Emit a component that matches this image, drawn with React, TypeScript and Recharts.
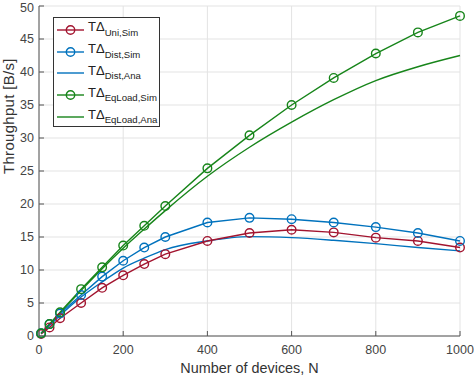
import React from 'react';
import { LineChart, Line, XAxis, YAxis, CartesianGrid, Legend } from 'recharts';

const devices = [5, 25, 50, 100, 150, 200, 250, 300, 400, 500, 600, 700, 800, 900, 1000];
const uniSim = [0.3, 1.3, 2.7, 5.0, 7.3, 9.2, 10.9, 12.4, 14.4, 15.6, 16.1, 15.7, 14.9, 14.4, 13.4];
const distSim = [0.4, 1.8, 3.4, 6.2, 9.0, 11.4, 13.4, 15.0, 17.2, 17.9, 17.7, 17.2, 16.5, 15.6, 14.4];
const distAna = [0.4, 1.6, 3.1, 5.9, 8.2, 10.3, 11.8, 13.1, 14.4, 15.05, 14.9, 14.5, 14.0, 13.4, 12.9];
const eqSim = [0.4, 1.8, 3.6, 7.1, 10.4, 13.7, 16.7, 19.7, 25.4, 30.4, 35.0, 39.1, 42.8, 46.0, 48.5];
const eqAna = [0.4, 1.8, 3.5, 6.9, 10.2, 13.3, 16.2, 19.0, 24.2, 28.6, 32.4, 35.8, 38.7, 40.8, 42.5];

const xTicks = [0, 200, 400, 600, 800, 1000];
const yTicks = [0, 5, 10, 15, 20, 25, 30, 35, 40, 45, 50];

const RED = '#A2142F';
const BLUE = '#0072BD';
const GREEN = '#17851a';

const data = devices.map((n, i) => ({
  n,
  uniSim: uniSim[i],
  distSim: distSim[i],
  distAna: distAna[i],
  eqSim: eqSim[i],
  eqAna: eqAna[i],
}));

const legendItems = [
  { color: RED, marker: true, sub: 'Uni,Sim' },
  { color: BLUE, marker: true, sub: 'Dist,Sim' },
  { color: BLUE, marker: false, sub: 'Dist,Ana' },
  { color: GREEN, marker: true, sub: 'EqLoad,Sim' },
  { color: GREEN, marker: false, sub: 'EqLoad,Ana' },
];

const FONT = '"Liberation Sans", Arial, Helvetica, sans-serif';

const renderLegend = () => (
  <div
    style={{
      border: '1px solid #333',
      background: '#fff',
      width: 107,
      height: 110,
      boxSizing: 'border-box',
      paddingTop: 1,
      fontFamily: FONT,
      color: '#222',
    }}
  >
    {legendItems.map((it, i) => (
      <div key={i} style={{ display: 'flex', alignItems: 'center', height: 21.8 }}>
        <svg width={33} height={12} style={{ display: 'block', flex: 'none' }}>
          <line x1={3} y1={6} x2={30} y2={6} stroke={it.color} strokeWidth={1.4} />
          {it.marker && <circle cx={16.5} cy={6} r={4.2} fill="none" stroke={it.color} strokeWidth={1.4} />}
        </svg>
        <span style={{ fontSize: 13, lineHeight: '13px', whiteSpace: 'nowrap', marginTop: -5, marginLeft: 1 }}>
          TΔ<span style={{ fontSize: 9.6, position: 'relative', top: 4.5 }}>{it.sub}</span>
        </span>
      </div>
    ))}
  </div>
);

export default function App() {
  return (
    <div style={{ position: 'absolute', left: 0, top: 0, width: 474, height: 378, background: '#fff' }}>
      <LineChart
        width={474}
        height={378}
        data={data}
        margin={{ top: 6, right: 14, bottom: 0, left: 0 }}
        style={{ fontFamily: FONT }}
      >
        <CartesianGrid stroke="#e3e3e3" strokeWidth={1} />
        <XAxis
          dataKey="n"
          type="number"
          domain={[0, 1000]}
          ticks={xTicks}
          height={42}
          stroke="#555"
          tickSize={-5}
          tickMargin={14}
          tick={{ fill: '#444', fontSize: 12.5 }}
          label={{ value: 'Number of devices, N', position: 'insideBottom', offset: 5, fill: '#333', fontSize: 14.4 }}
        />
        <YAxis
          type="number"
          domain={[0, 50]}
          ticks={yTicks}
          width={39}
          stroke="#555"
          tickSize={-5}
          tickMargin={10}
          tick={{ fill: '#444', fontSize: 12.5 }}
          label={{ value: 'Throughput [B/s]', angle: -90, position: 'insideLeft', offset: 9, dy: 3, fill: '#333', fontSize: 15, letterSpacing: 0.3 }}
        />
        <Legend
          layout="vertical"
          align="center"
          verticalAlign="middle"
          content={renderLegend}
          wrapperStyle={{ position: 'absolute', left: 53, top: 17, width: 107, height: 110 }}
        />
        <Line dataKey="eqAna" stroke={GREEN} strokeWidth={1.4} dot={false} isAnimationActive={false} type="monotone" />
        <Line dataKey="distAna" stroke={BLUE} strokeWidth={1.4} dot={false} isAnimationActive={false} type="monotone" />
        <Line dataKey="uniSim" stroke={RED} strokeWidth={1.4} dot={{ r: 4.3, fill: 'none', stroke: RED, strokeWidth: 1.4 }} isAnimationActive={false} type="linear" />
        <Line dataKey="distSim" stroke={BLUE} strokeWidth={1.4} dot={{ r: 4.3, fill: 'none', stroke: BLUE, strokeWidth: 1.4 }} isAnimationActive={false} type="linear" />
        <Line dataKey="eqSim" stroke={GREEN} strokeWidth={1.4} dot={{ r: 4.3, fill: 'none', stroke: GREEN, strokeWidth: 1.4 }} isAnimationActive={false} type="linear" />
      </LineChart>
    </div>
  );
}
